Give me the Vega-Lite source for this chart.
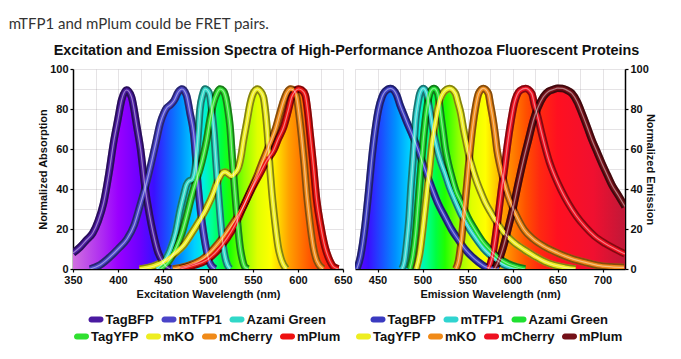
{
  "$schema": "https://vega.github.io/schema/vega-lite/v6.json",
  "background": "white",
  "padding": {"left": 8, "top": 16, "right": 0, "bottom": 0},
  "title": {"text": "mTFP1 and mPlum could be FRET pairs.", "anchor": "start", "font": "Lato", "fontSize": 15, "fontWeight": "normal", "color": "#333333", "offset": 11, "dx": -29},
  "datasets": {
    "exc": [
      {"s":"TagBFP","nm":350,"v":8},{"s":"TagBFP","nm":358,"v":11},{"s":"TagBFP","nm":365,"v":14.5},{"s":"TagBFP","nm":372,"v":18},{"s":"TagBFP","nm":378,"v":24},{"s":"TagBFP","nm":384,"v":33},{"s":"TagBFP","nm":390,"v":48},{"s":"TagBFP","nm":395,"v":63},{"s":"TagBFP","nm":400,"v":75},{"s":"TagBFP","nm":404,"v":84.5},{"s":"TagBFP","nm":409.6,"v":89.5},{"s":"TagBFP","nm":415,"v":86},{"s":"TagBFP","nm":421,"v":71},{"s":"TagBFP","nm":425,"v":60},{"s":"TagBFP","nm":430,"v":41},{"s":"TagBFP","nm":435,"v":27},{"s":"TagBFP","nm":439,"v":18},{"s":"TagBFP","nm":444,"v":9},{"s":"TagBFP","nm":448.5,"v":4.5},{"s":"TagBFP","nm":453,"v":1.5},{"s":"TagBFP","nm":458,"v":0},{"s":"TagBFP","nm":650,"v":0},
      {"s":"mTFP1","nm":350,"v":0},{"s":"mTFP1","nm":369,"v":0},{"s":"mTFP1","nm":380,"v":2},{"s":"mTFP1","nm":391,"v":6},{"s":"mTFP1","nm":400,"v":10},{"s":"mTFP1","nm":410,"v":15},{"s":"mTFP1","nm":418,"v":22},{"s":"mTFP1","nm":424,"v":31},{"s":"mTFP1","nm":431,"v":42},{"s":"mTFP1","nm":437,"v":53},{"s":"mTFP1","nm":442,"v":63},{"s":"mTFP1","nm":447,"v":73},{"s":"mTFP1","nm":451,"v":78},{"s":"mTFP1","nm":454,"v":80.5},{"s":"mTFP1","nm":458,"v":82},{"s":"mTFP1","nm":462,"v":84},{"s":"mTFP1","nm":467,"v":88.5},{"s":"mTFP1","nm":471,"v":90},{"s":"mTFP1","nm":476,"v":87},{"s":"mTFP1","nm":480,"v":78},{"s":"mTFP1","nm":484,"v":68},{"s":"mTFP1","nm":489,"v":41},{"s":"mTFP1","nm":492,"v":28},{"s":"mTFP1","nm":495,"v":18},{"s":"mTFP1","nm":499,"v":8},{"s":"mTFP1","nm":502,"v":3},{"s":"mTFP1","nm":508,"v":0},{"s":"mTFP1","nm":650,"v":0},
      {"s":"Azami Green","nm":350,"v":0},{"s":"Azami Green","nm":443,"v":0},{"s":"Azami Green","nm":450,"v":3},{"s":"Azami Green","nm":458,"v":9.5},{"s":"Azami Green","nm":464,"v":18},{"s":"Azami Green","nm":469,"v":29.5},{"s":"Azami Green","nm":473,"v":37},{"s":"Azami Green","nm":476,"v":42},{"s":"Azami Green","nm":479,"v":44},{"s":"Azami Green","nm":482,"v":44.5},{"s":"Azami Green","nm":485,"v":48},{"s":"Azami Green","nm":487.5,"v":58},{"s":"Azami Green","nm":489.5,"v":70},{"s":"Azami Green","nm":491,"v":79.5},{"s":"Azami Green","nm":494,"v":87},{"s":"Azami Green","nm":496.7,"v":90},{"s":"Azami Green","nm":500,"v":89},{"s":"Azami Green","nm":502,"v":87},{"s":"Azami Green","nm":504.5,"v":78},{"s":"Azami Green","nm":506.7,"v":68},{"s":"Azami Green","nm":509,"v":53},{"s":"Azami Green","nm":511.5,"v":38},{"s":"Azami Green","nm":514,"v":24},{"s":"Azami Green","nm":517,"v":11},{"s":"Azami Green","nm":520,"v":4},{"s":"Azami Green","nm":524.5,"v":0},{"s":"Azami Green","nm":650,"v":0},
      {"s":"TagYFP","nm":350,"v":0},{"s":"TagYFP","nm":447,"v":0},{"s":"TagYFP","nm":455,"v":3},{"s":"TagYFP","nm":465,"v":11},{"s":"TagYFP","nm":471,"v":18},{"s":"TagYFP","nm":476,"v":26},{"s":"TagYFP","nm":481,"v":35},{"s":"TagYFP","nm":486,"v":43},{"s":"TagYFP","nm":491,"v":50},{"s":"TagYFP","nm":495,"v":57},{"s":"TagYFP","nm":498.5,"v":64.5},{"s":"TagYFP","nm":502,"v":74},{"s":"TagYFP","nm":506,"v":83},{"s":"TagYFP","nm":510,"v":88},{"s":"TagYFP","nm":513.3,"v":90},{"s":"TagYFP","nm":517,"v":89},{"s":"TagYFP","nm":519,"v":87},{"s":"TagYFP","nm":522,"v":80},{"s":"TagYFP","nm":524.5,"v":71},{"s":"TagYFP","nm":527,"v":55},{"s":"TagYFP","nm":530,"v":38},{"s":"TagYFP","nm":533,"v":22},{"s":"TagYFP","nm":535.6,"v":11},{"s":"TagYFP","nm":538,"v":5},{"s":"TagYFP","nm":541,"v":1},{"s":"TagYFP","nm":545,"v":0},{"s":"TagYFP","nm":650,"v":0},
      {"s":"mKO","nm":350,"v":0},{"s":"mKO","nm":424,"v":0},{"s":"mKO","nm":440,"v":1.5},{"s":"mKO","nm":454,"v":4.5},{"s":"mKO","nm":465,"v":8.5},{"s":"mKO","nm":473,"v":12},{"s":"mKO","nm":482,"v":18},{"s":"mKO","nm":491,"v":24.5},{"s":"mKO","nm":499,"v":31},{"s":"mKO","nm":506,"v":38},{"s":"mKO","nm":510,"v":43},{"s":"mKO","nm":513,"v":46},{"s":"mKO","nm":516,"v":48},{"s":"mKO","nm":519,"v":48.5},{"s":"mKO","nm":523,"v":47.5},{"s":"mKO","nm":526,"v":46.5},{"s":"mKO","nm":530,"v":48},{"s":"mKO","nm":534,"v":51},{"s":"mKO","nm":537,"v":57},{"s":"mKO","nm":539,"v":63},{"s":"mKO","nm":543,"v":73},{"s":"mKO","nm":547,"v":83},{"s":"mKO","nm":551,"v":88.5},{"s":"mKO","nm":555,"v":90},{"s":"mKO","nm":558,"v":89},{"s":"mKO","nm":561.5,"v":86},{"s":"mKO","nm":564,"v":78},{"s":"mKO","nm":566,"v":68},{"s":"mKO","nm":568.5,"v":52},{"s":"mKO","nm":571,"v":38},{"s":"mKO","nm":574.5,"v":23},{"s":"mKO","nm":578,"v":11},{"s":"mKO","nm":582,"v":4},{"s":"mKO","nm":587,"v":0},{"s":"mKO","nm":650,"v":0},
      {"s":"mCherry","nm":350,"v":0},{"s":"mCherry","nm":461,"v":0},{"s":"mCherry","nm":480,"v":2},{"s":"mCherry","nm":495,"v":5.3},{"s":"mCherry","nm":506,"v":10},{"s":"mCherry","nm":517,"v":16},{"s":"mCherry","nm":528,"v":23},{"s":"mCherry","nm":539,"v":31},{"s":"mCherry","nm":547,"v":39},{"s":"mCherry","nm":554,"v":46},{"s":"mCherry","nm":561,"v":54},{"s":"mCherry","nm":569,"v":63},{"s":"mCherry","nm":575,"v":70},{"s":"mCherry","nm":580,"v":78},{"s":"mCherry","nm":584,"v":84},{"s":"mCherry","nm":587.5,"v":88},{"s":"mCherry","nm":592,"v":90},{"s":"mCherry","nm":596,"v":89},{"s":"mCherry","nm":598.5,"v":86},{"s":"mCherry","nm":601,"v":78},{"s":"mCherry","nm":604,"v":66},{"s":"mCherry","nm":607,"v":52},{"s":"mCherry","nm":609.6,"v":38},{"s":"mCherry","nm":613,"v":24},{"s":"mCherry","nm":617,"v":11},{"s":"mCherry","nm":621,"v":4},{"s":"mCherry","nm":628,"v":0},{"s":"mCherry","nm":650,"v":0},
      {"s":"mPlum","nm":350,"v":0},{"s":"mPlum","nm":469,"v":0},{"s":"mPlum","nm":485,"v":2},{"s":"mPlum","nm":498.5,"v":4.5},{"s":"mPlum","nm":510,"v":9},{"s":"mPlum","nm":521,"v":15.3},{"s":"mPlum","nm":530,"v":22},{"s":"mPlum","nm":539,"v":31},{"s":"mPlum","nm":548,"v":39.5},{"s":"mPlum","nm":558,"v":48},{"s":"mPlum","nm":565,"v":54},{"s":"mPlum","nm":573,"v":59.5},{"s":"mPlum","nm":578,"v":65},{"s":"mPlum","nm":584,"v":71},{"s":"mPlum","nm":589,"v":79},{"s":"mPlum","nm":593,"v":86},{"s":"mPlum","nm":597,"v":89},{"s":"mPlum","nm":600.4,"v":90},{"s":"mPlum","nm":604,"v":89.5},{"s":"mPlum","nm":608,"v":87},{"s":"mPlum","nm":611,"v":78},{"s":"mPlum","nm":613.3,"v":68},{"s":"mPlum","nm":617,"v":52},{"s":"mPlum","nm":620.7,"v":34.5},{"s":"mPlum","nm":625,"v":22},{"s":"mPlum","nm":630,"v":11},{"s":"mPlum","nm":635,"v":4.5},{"s":"mPlum","nm":639.3,"v":1.2},{"s":"mPlum","nm":645,"v":0},{"s":"mPlum","nm":650,"v":0}
    ],
    "emi": [
      {"s":"TagBFP","nm":425,"v":0},{"s":"TagBFP","nm":427,"v":0},{"s":"TagBFP","nm":431,"v":6},{"s":"TagBFP","nm":436,"v":21},{"s":"TagBFP","nm":440,"v":38},{"s":"TagBFP","nm":443.5,"v":54.5},{"s":"TagBFP","nm":447,"v":68},{"s":"TagBFP","nm":451,"v":79.5},{"s":"TagBFP","nm":455,"v":86},{"s":"TagBFP","nm":458.3,"v":88.7},{"s":"TagBFP","nm":464.6,"v":90.3},{"s":"TagBFP","nm":471.3,"v":87},{"s":"TagBFP","nm":475,"v":82},{"s":"TagBFP","nm":478.7,"v":77.8},{"s":"TagBFP","nm":483,"v":73},{"s":"TagBFP","nm":488,"v":67.8},{"s":"TagBFP","nm":494,"v":61},{"s":"TagBFP","nm":499,"v":54.5},{"s":"TagBFP","nm":505,"v":47},{"s":"TagBFP","nm":510,"v":41},{"s":"TagBFP","nm":517,"v":33},{"s":"TagBFP","nm":525,"v":26},{"s":"TagBFP","nm":532,"v":20},{"s":"TagBFP","nm":540,"v":14.5},{"s":"TagBFP","nm":547,"v":10},{"s":"TagBFP","nm":555,"v":6.2},{"s":"TagBFP","nm":562,"v":3.5},{"s":"TagBFP","nm":569.4,"v":1.2},{"s":"TagBFP","nm":577,"v":0.3},{"s":"TagBFP","nm":585,"v":0},{"s":"TagBFP","nm":725,"v":0},
      {"s":"mTFP1","nm":425,"v":0},{"s":"mTFP1","nm":477,"v":0},{"s":"mTFP1","nm":480,"v":4},{"s":"mTFP1","nm":482.4,"v":12.8},{"s":"mTFP1","nm":485,"v":25},{"s":"mTFP1","nm":487.2,"v":41},{"s":"mTFP1","nm":490,"v":58},{"s":"mTFP1","nm":492.4,"v":74.5},{"s":"mTFP1","nm":495,"v":83},{"s":"mTFP1","nm":497.2,"v":87.8},{"s":"mTFP1","nm":500.9,"v":90.3},{"s":"mTFP1","nm":504.6,"v":87.8},{"s":"mTFP1","nm":507,"v":82},{"s":"mTFP1","nm":509.4,"v":76},{"s":"mTFP1","nm":512,"v":69},{"s":"mTFP1","nm":515.7,"v":61},{"s":"mTFP1","nm":520,"v":54},{"s":"mTFP1","nm":525,"v":47.8},{"s":"mTFP1","nm":530,"v":41},{"s":"mTFP1","nm":536,"v":34.5},{"s":"mTFP1","nm":543,"v":27.5},{"s":"mTFP1","nm":551,"v":21},{"s":"mTFP1","nm":560,"v":15},{"s":"mTFP1","nm":569.4,"v":9.5},{"s":"mTFP1","nm":578,"v":6},{"s":"mTFP1","nm":588,"v":2.8},{"s":"mTFP1","nm":597,"v":1},{"s":"mTFP1","nm":606.5,"v":0},{"s":"mTFP1","nm":725,"v":0},
      {"s":"Azami Green","nm":425,"v":0},{"s":"Azami Green","nm":486,"v":0},{"s":"Azami Green","nm":489,"v":6},{"s":"Azami Green","nm":492.4,"v":17.8},{"s":"Azami Green","nm":495,"v":32},{"s":"Azami Green","nm":498.3,"v":51},{"s":"Azami Green","nm":501,"v":65},{"s":"Azami Green","nm":504.6,"v":79.5},{"s":"Azami Green","nm":507,"v":86},{"s":"Azami Green","nm":509.4,"v":89.2},{"s":"Azami Green","nm":512.8,"v":90.3},{"s":"Azami Green","nm":516.9,"v":87.8},{"s":"Azami Green","nm":519,"v":82},{"s":"Azami Green","nm":520.6,"v":76},{"s":"Azami Green","nm":523,"v":68},{"s":"Azami Green","nm":525,"v":61},{"s":"Azami Green","nm":528,"v":54},{"s":"Azami Green","nm":532.4,"v":46},{"s":"Azami Green","nm":537,"v":39},{"s":"Azami Green","nm":543.5,"v":32.8},{"s":"Azami Green","nm":550,"v":26},{"s":"Azami Green","nm":558.3,"v":19.5},{"s":"Azami Green","nm":567,"v":13.5},{"s":"Azami Green","nm":577,"v":8.7},{"s":"Azami Green","nm":586,"v":5},{"s":"Azami Green","nm":595.4,"v":2.5},{"s":"Azami Green","nm":605,"v":1},{"s":"Azami Green","nm":614,"v":0},{"s":"Azami Green","nm":725,"v":0},
      {"s":"TagYFP","nm":425,"v":0},{"s":"TagYFP","nm":493,"v":0},{"s":"TagYFP","nm":497,"v":8},{"s":"TagYFP","nm":500.6,"v":21},{"s":"TagYFP","nm":504,"v":35},{"s":"TagYFP","nm":508,"v":51},{"s":"TagYFP","nm":511,"v":64},{"s":"TagYFP","nm":515.4,"v":76},{"s":"TagYFP","nm":519,"v":84},{"s":"TagYFP","nm":522.8,"v":88},{"s":"TagYFP","nm":530.2,"v":90.3},{"s":"TagYFP","nm":536.5,"v":87.8},{"s":"TagYFP","nm":539.5,"v":83},{"s":"TagYFP","nm":542.4,"v":78},{"s":"TagYFP","nm":545.5,"v":70},{"s":"TagYFP","nm":548.7,"v":63},{"s":"TagYFP","nm":552,"v":56},{"s":"TagYFP","nm":556,"v":49.5},{"s":"TagYFP","nm":560,"v":44},{"s":"TagYFP","nm":565.4,"v":37.8},{"s":"TagYFP","nm":570,"v":33},{"s":"TagYFP","nm":576.5,"v":27.8},{"s":"TagYFP","nm":583,"v":23},{"s":"TagYFP","nm":591.3,"v":17.8},{"s":"TagYFP","nm":601,"v":13.5},{"s":"TagYFP","nm":613.5,"v":9.5},{"s":"TagYFP","nm":625,"v":6.3},{"s":"TagYFP","nm":635.7,"v":3.7},{"s":"TagYFP","nm":646,"v":2},{"s":"TagYFP","nm":658,"v":0.8},{"s":"TagYFP","nm":670,"v":0},{"s":"TagYFP","nm":725,"v":0},
      {"s":"mKO","nm":425,"v":0},{"s":"mKO","nm":537,"v":0},{"s":"mKO","nm":540,"v":4},{"s":"mKO","nm":542.8,"v":12.8},{"s":"mKO","nm":546,"v":27},{"s":"mKO","nm":549.4,"v":42.8},{"s":"mKO","nm":552.5,"v":58},{"s":"mKO","nm":555.7,"v":71},{"s":"mKO","nm":559,"v":81},{"s":"mKO","nm":562.4,"v":87.8},{"s":"mKO","nm":567.6,"v":90.3},{"s":"mKO","nm":573.1,"v":87.8},{"s":"mKO","nm":575.5,"v":82},{"s":"mKO","nm":577.9,"v":76},{"s":"mKO","nm":580.5,"v":68},{"s":"mKO","nm":582.8,"v":59.5},{"s":"mKO","nm":586,"v":52},{"s":"mKO","nm":589.1,"v":46},{"s":"mKO","nm":593,"v":39.5},{"s":"mKO","nm":598.3,"v":32.8},{"s":"mKO","nm":605,"v":26},{"s":"mKO","nm":613.1,"v":19.5},{"s":"mKO","nm":623,"v":15},{"s":"mKO","nm":635.4,"v":11.2},{"s":"mKO","nm":650,"v":8},{"s":"mKO","nm":665,"v":5.3},{"s":"mKO","nm":680,"v":3.4},{"s":"mKO","nm":694.6,"v":1.8},{"s":"mKO","nm":710,"v":1.1},{"s":"mKO","nm":724,"v":0.8},{"s":"mKO","nm":725,"v":0},
      {"s":"mCherry","nm":425,"v":0},{"s":"mCherry","nm":573,"v":0},{"s":"mCherry","nm":577,"v":5},{"s":"mCherry","nm":580.6,"v":14.5},{"s":"mCherry","nm":584,"v":26},{"s":"mCherry","nm":587.2,"v":37.8},{"s":"mCherry","nm":591,"v":50},{"s":"mCherry","nm":594.6,"v":62.8},{"s":"mCherry","nm":598,"v":73},{"s":"mCherry","nm":602,"v":82.8},{"s":"mCherry","nm":605,"v":87},{"s":"mCherry","nm":608.3,"v":89.2},{"s":"mCherry","nm":614.6,"v":90.3},{"s":"mCherry","nm":621.3,"v":87.8},{"s":"mCherry","nm":624.5,"v":82},{"s":"mCherry","nm":628,"v":76.2},{"s":"mCherry","nm":632,"v":68.5},{"s":"mCherry","nm":636.1,"v":61.2},{"s":"mCherry","nm":641,"v":53.5},{"s":"mCherry","nm":647.2,"v":46.2},{"s":"mCherry","nm":654,"v":39.5},{"s":"mCherry","nm":662,"v":32.8},{"s":"mCherry","nm":671,"v":26.5},{"s":"mCherry","nm":680.6,"v":21.2},{"s":"mCherry","nm":691,"v":16.5},{"s":"mCherry","nm":702.8,"v":12.8},{"s":"mCherry","nm":714,"v":10},{"s":"mCherry","nm":725,"v":7.5},
      {"s":"mPlum","nm":425,"v":0},{"s":"mPlum","nm":580,"v":0},{"s":"mPlum","nm":585,"v":4.5},{"s":"mPlum","nm":589.9,"v":11.2},{"s":"mPlum","nm":595,"v":20},{"s":"mPlum","nm":601,"v":31.2},{"s":"mPlum","nm":606,"v":42},{"s":"mPlum","nm":612.2,"v":54.5},{"s":"mPlum","nm":618,"v":65},{"s":"mPlum","nm":623.3,"v":74.5},{"s":"mPlum","nm":628,"v":80.5},{"s":"mPlum","nm":634.4,"v":86.2},{"s":"mPlum","nm":640,"v":88.8},{"s":"mPlum","nm":645.6,"v":89.8},{"s":"mPlum","nm":650,"v":90.4},{"s":"mPlum","nm":655.6,"v":90.3},{"s":"mPlum","nm":661,"v":89.3},{"s":"mPlum","nm":666,"v":87.8},{"s":"mPlum","nm":672,"v":83.5},{"s":"mPlum","nm":677.2,"v":77.8},{"s":"mPlum","nm":683,"v":71},{"s":"mPlum","nm":688.3,"v":64.5},{"s":"mPlum","nm":694,"v":58.5},{"s":"mPlum","nm":699.4,"v":52.8},{"s":"mPlum","nm":705,"v":47.3},{"s":"mPlum","nm":710.5,"v":42},{"s":"mPlum","nm":718,"v":36.5},{"s":"mPlum","nm":725,"v":31.2}
    ]
  },
  "vconcat": [
    {
      "title": {"text": "Excitation and Emission Spectra of High-Performance Anthozoa Fluorescent Proteins", "anchor": "middle", "font": "Liberation Sans", "fontSize": 14.4, "fontWeight": "bold", "color": "#111111", "offset": 5},
      "bounds": "flush",
      "spacing": 12,
      "resolve": {"scale": {"x": "independent", "y": "independent", "color": "independent", "stroke": "independent"}, "legend": {"color": "independent", "stroke": "independent"}},
      "hconcat": [
        {
          "width": 270, "height": 200,
          "data": {"name": "exc"},
          "encoding": {
            "x": {"field": "nm", "type": "quantitative", "title": "Excitation Wavelength (nm)",
              "scale": {"domain": [350, 650], "nice": false, "zero": false},
              "axis": {"values": [350,375,400,425,450,475,500,525,550,575,600,625,650], "labelExpr": "datum.value % 50 === 0 ? datum.label : ''", "tickOpacity": {"condition": {"test": "datum.value % 50 === 0", "value": 1}, "value": 0}}},
            "y": {"field": "v", "type": "quantitative", "title": "Normalized Absorption", "stack": null,
              "scale": {"domain": [0, 100], "nice": false},
              "axis": {"values": [0,10,20,30,40,50,60,70,80,90,100], "labelExpr": "datum.value % 20 === 0 ? datum.label : ''", "tickOpacity": {"condition": {"test": "datum.value % 20 === 0", "value": 1}, "value": 0}}}
          },
          "layer": [
            {"data": {"values": [{}]},
             "mark": {"type": "rect", "fillOpacity": 0.36, "fill": {"gradient": "linear", "x1": 0, "y1": 0, "x2": 1, "y2": 0, "stops": [
               {"offset": 0, "color": "#d070e0"},{"offset": 0.1, "color": "#b030f0"},{"offset": 0.1667, "color": "#9a00ff"},{"offset": 0.25, "color": "#6a00ff"},{"offset": 0.3, "color": "#3a10ff"},{"offset": 0.35, "color": "#1a50ff"},{"offset": 0.4, "color": "#0090ff"},{"offset": 0.45, "color": "#00d0ff"},{"offset": 0.4833, "color": "#00f0e0"},{"offset": 0.5167, "color": "#00ff90"},{"offset": 0.55, "color": "#00ff40"},{"offset": 0.5833, "color": "#20ff00"},{"offset": 0.6333, "color": "#90ff00"},{"offset": 0.6833, "color": "#e0ff00"},{"offset": 0.7333, "color": "#ffff00"},{"offset": 0.7667, "color": "#ffd000"},{"offset": 0.8, "color": "#ffa000"},{"offset": 0.8333, "color": "#ff8000"},{"offset": 0.8833, "color": "#ff5000"},{"offset": 0.9333, "color": "#ff2a10"},{"offset": 1, "color": "#ff1020"}]}},
             "encoding": {"x": {"datum": 350, "type": "quantitative"}, "x2": {"datum": 650}, "y": {"datum": 0, "type": "quantitative"}, "y2": {"datum": 100}}},
            {"mark": {"type": "area", "interpolate": "monotone", "clip": true, "fill": {"gradient": "linear", "x1": 0, "y1": 0, "x2": 1, "y2": 0, "stops": [
               {"offset": 0, "color": "#d070e0"},{"offset": 0.1, "color": "#b030f0"},{"offset": 0.1667, "color": "#9a00ff"},{"offset": 0.25, "color": "#6a00ff"},{"offset": 0.3, "color": "#3a10ff"},{"offset": 0.35, "color": "#1a50ff"},{"offset": 0.4, "color": "#0090ff"},{"offset": 0.45, "color": "#00d0ff"},{"offset": 0.4833, "color": "#00f0e0"},{"offset": 0.5167, "color": "#00ff90"},{"offset": 0.55, "color": "#00ff40"},{"offset": 0.5833, "color": "#20ff00"},{"offset": 0.6333, "color": "#90ff00"},{"offset": 0.6833, "color": "#e0ff00"},{"offset": 0.7333, "color": "#ffff00"},{"offset": 0.7667, "color": "#ffd000"},{"offset": 0.8, "color": "#ffa000"},{"offset": 0.8333, "color": "#ff8000"},{"offset": 0.8833, "color": "#ff5000"},{"offset": 0.9333, "color": "#ff2a10"},{"offset": 1, "color": "#ff1020"}]}},
             "encoding": {"detail": {"field": "s", "type": "nominal"}}},
            {"transform": [{"filter": "!((datum.nm <= 350 || datum.nm >= 650) && datum.v == 0)"}, {"filter": "indexof(['TagBFP','mTFP1','Azami Green'], datum.s) >= 0"}],
             "mark": {"type": "line", "interpolate": "monotone", "clip": true, "strokeWidth": 7.5},
             "encoding": {"color": {"field": "s", "type": "nominal", "scale": {"domain": ["TagBFP","mTFP1","Azami Green"], "range": ["#4a1aa0","#4a44c8","#30d8c8"]}}}},
            {"transform": [{"filter": "!((datum.nm <= 350 || datum.nm >= 650) && datum.v == 0)"}, {"filter": "indexof(['TagBFP','mTFP1','Azami Green'], datum.s) < 0"}],
             "mark": {"type": "line", "interpolate": "monotone", "clip": true, "strokeWidth": 7.5},
             "encoding": {"stroke": {"field": "s", "type": "nominal", "scale": {"domain": ["TagYFP","mKO","mCherry","mPlum"], "range": ["#30e030","#eeee20","#f08a18","#ee1010"]}}}},
            {"transform": [{"filter": "!((datum.nm <= 350 || datum.nm >= 650) && datum.v == 0)"}],
             "mark": {"type": "line", "interpolate": "monotone", "clip": true, "strokeWidth": 7.5, "color": "#000000", "opacity": 0.45},
             "encoding": {"detail": {"field": "s", "type": "nominal"}}},
            {"transform": [{"filter": "!((datum.nm <= 350 || datum.nm >= 650) && datum.v == 0)"}, {"filter": "indexof(['TagBFP','mTFP1','Azami Green'], datum.s) >= 0"}],
             "mark": {"type": "line", "interpolate": "monotone", "clip": true, "strokeWidth": 4},
             "encoding": {"color": {"field": "s", "type": "nominal", "scale": {"domain": ["TagBFP","mTFP1","Azami Green"], "range": ["#4a1aa0","#4a44c8","#30d8c8"]},
               "legend": {"orient": "bottom", "direction": "horizontal", "title": null}}}},
            {"transform": [{"filter": "!((datum.nm <= 350 || datum.nm >= 650) && datum.v == 0)"}, {"filter": "indexof(['TagBFP','mTFP1','Azami Green'], datum.s) < 0"}],
             "mark": {"type": "line", "interpolate": "monotone", "clip": true, "strokeWidth": 4},
             "encoding": {"stroke": {"field": "s", "type": "nominal", "scale": {"domain": ["TagYFP","mKO","mCherry","mPlum"], "range": ["#30e030","#eeee20","#f08a18","#ee1010"]},
               "legend": {"orient": "bottom", "direction": "horizontal", "title": null}}}},
            {"transform": [{"filter": "!((datum.nm <= 350 || datum.nm >= 650) && datum.v == 0)"}],
             "mark": {"type": "line", "interpolate": "monotone", "clip": true, "strokeWidth": 1.2, "color": "#ffffff", "opacity": 0.45},
             "encoding": {"detail": {"field": "s", "type": "nominal"}}},
            {"data": {"values": [{}]},
             "mark": {"type": "text", "text": "(a)", "fontWeight": "bold", "fontSize": 10, "font": "Liberation Sans", "color": "#111111"},
             "encoding": {"x": {"datum": 633, "type": "quantitative"}, "y": {"datum": 94, "type": "quantitative"}}},
            {"data": {"values": [{}]},
             "mark": {"type": "rect", "fill": "transparent", "stroke": "#000000", "strokeWidth": 1.5},
             "encoding": {"x": {"datum": 350, "type": "quantitative"}, "x2": {"datum": 650}, "y": {"datum": 0, "type": "quantitative"}, "y2": {"datum": 100}}}
          ]
        },
        {
          "width": 270, "height": 200,
          "data": {"name": "emi"},
          "encoding": {
            "x": {"field": "nm", "type": "quantitative", "title": "Emission Wavelength (nm)",
              "scale": {"domain": [425, 725], "nice": false, "zero": false},
              "axis": {"values": [425,450,475,500,525,550,575,600,625,650,675,700,725], "labelExpr": "datum.value % 50 === 0 ? datum.label : ''", "tickOpacity": {"condition": {"test": "datum.value % 50 === 0", "value": 1}, "value": 0}}},
            "y": {"field": "v", "type": "quantitative", "title": "Normalized Emission", "stack": null,
              "scale": {"domain": [0, 100], "nice": false},
              "axis": {"orient": "right", "titlePadding": -4, "values": [0,10,20,30,40,50,60,70,80,90,100], "labelExpr": "datum.value % 20 === 0 ? datum.label : ''", "tickOpacity": {"condition": {"test": "datum.value % 20 === 0", "value": 1}, "value": 0}}}
          },
          "layer": [
            {"data": {"values": [{}]},
             "mark": {"type": "rect", "fillOpacity": 0.36, "fill": {"gradient": "linear", "x1": 0, "y1": 0, "x2": 1, "y2": 0, "stops": [
               {"offset": 0, "color": "#6a00ff"},{"offset": 0.05, "color": "#3a10ff"},{"offset": 0.1, "color": "#1a50ff"},{"offset": 0.15, "color": "#0090ff"},{"offset": 0.2, "color": "#00d0ff"},{"offset": 0.2333, "color": "#00f0e0"},{"offset": 0.2667, "color": "#00ff90"},{"offset": 0.3, "color": "#00ff40"},{"offset": 0.3333, "color": "#20ff00"},{"offset": 0.3833, "color": "#90ff00"},{"offset": 0.4333, "color": "#e0ff00"},{"offset": 0.4833, "color": "#ffff00"},{"offset": 0.5167, "color": "#ffd000"},{"offset": 0.55, "color": "#ffa000"},{"offset": 0.5833, "color": "#ff8000"},{"offset": 0.6333, "color": "#ff5000"},{"offset": 0.6833, "color": "#ff2a10"},{"offset": 0.75, "color": "#ff1020"},{"offset": 0.8833, "color": "#f01030"},{"offset": 1, "color": "#c01838"}]}},
             "encoding": {"x": {"datum": 425, "type": "quantitative"}, "x2": {"datum": 725}, "y": {"datum": 0, "type": "quantitative"}, "y2": {"datum": 100}}},
            {"mark": {"type": "area", "interpolate": "monotone", "clip": true, "fill": {"gradient": "linear", "x1": 0, "y1": 0, "x2": 1, "y2": 0, "stops": [
               {"offset": 0, "color": "#6a00ff"},{"offset": 0.05, "color": "#3a10ff"},{"offset": 0.1, "color": "#1a50ff"},{"offset": 0.15, "color": "#0090ff"},{"offset": 0.2, "color": "#00d0ff"},{"offset": 0.2333, "color": "#00f0e0"},{"offset": 0.2667, "color": "#00ff90"},{"offset": 0.3, "color": "#00ff40"},{"offset": 0.3333, "color": "#20ff00"},{"offset": 0.3833, "color": "#90ff00"},{"offset": 0.4333, "color": "#e0ff00"},{"offset": 0.4833, "color": "#ffff00"},{"offset": 0.5167, "color": "#ffd000"},{"offset": 0.55, "color": "#ffa000"},{"offset": 0.5833, "color": "#ff8000"},{"offset": 0.6333, "color": "#ff5000"},{"offset": 0.6833, "color": "#ff2a10"},{"offset": 0.75, "color": "#ff1020"},{"offset": 0.8833, "color": "#f01030"},{"offset": 1, "color": "#c01838"}]}},
             "encoding": {"detail": {"field": "s", "type": "nominal"}}},
            {"transform": [{"filter": "!((datum.nm <= 425 || datum.nm >= 725) && datum.v == 0)"}, {"filter": "indexof(['TagBFP','mTFP1','Azami Green'], datum.s) >= 0"}],
             "mark": {"type": "line", "interpolate": "monotone", "clip": true, "strokeWidth": 7.5},
             "encoding": {"color": {"field": "s", "type": "nominal", "scale": {"domain": ["TagBFP","mTFP1","Azami Green"], "range": ["#3a3ac0","#30d4d0","#20e030"]}}}},
            {"transform": [{"filter": "!((datum.nm <= 425 || datum.nm >= 725) && datum.v == 0)"}, {"filter": "indexof(['TagBFP','mTFP1','Azami Green'], datum.s) < 0"}],
             "mark": {"type": "line", "interpolate": "monotone", "clip": true, "strokeWidth": 7.5},
             "encoding": {"stroke": {"field": "s", "type": "nominal", "scale": {"domain": ["TagYFP","mKO","mCherry","mPlum"], "range": ["#eeee20","#f08a18","#ee1020","#741018"]}}}},
            {"transform": [{"filter": "!((datum.nm <= 425 || datum.nm >= 725) && datum.v == 0)"}],
             "mark": {"type": "line", "interpolate": "monotone", "clip": true, "strokeWidth": 7.5, "color": "#000000", "opacity": 0.45},
             "encoding": {"detail": {"field": "s", "type": "nominal"}}},
            {"transform": [{"filter": "!((datum.nm <= 425 || datum.nm >= 725) && datum.v == 0)"}, {"filter": "indexof(['TagBFP','mTFP1','Azami Green'], datum.s) >= 0"}],
             "mark": {"type": "line", "interpolate": "monotone", "clip": true, "strokeWidth": 4},
             "encoding": {"color": {"field": "s", "type": "nominal", "scale": {"domain": ["TagBFP","mTFP1","Azami Green"], "range": ["#3a3ac0","#30d4d0","#20e030"]},
               "legend": {"orient": "bottom", "direction": "horizontal", "title": null}}}},
            {"transform": [{"filter": "!((datum.nm <= 425 || datum.nm >= 725) && datum.v == 0)"}, {"filter": "indexof(['TagBFP','mTFP1','Azami Green'], datum.s) < 0"}],
             "mark": {"type": "line", "interpolate": "monotone", "clip": true, "strokeWidth": 4},
             "encoding": {"stroke": {"field": "s", "type": "nominal", "scale": {"domain": ["TagYFP","mKO","mCherry","mPlum"], "range": ["#eeee20","#f08a18","#ee1020","#741018"]},
               "legend": {"orient": "bottom", "direction": "horizontal", "title": null}}}},
            {"transform": [{"filter": "!((datum.nm <= 425 || datum.nm >= 725) && datum.v == 0)"}],
             "mark": {"type": "line", "interpolate": "monotone", "clip": true, "strokeWidth": 1.2, "color": "#ffffff", "opacity": 0.45},
             "encoding": {"detail": {"field": "s", "type": "nominal"}}},
            {"data": {"values": [{}]},
             "mark": {"type": "text", "text": "(b)", "fontWeight": "bold", "fontSize": 10, "font": "Liberation Sans", "color": "#111111"},
             "encoding": {"x": {"datum": 710, "type": "quantitative"}, "y": {"datum": 94, "type": "quantitative"}}},
            {"data": {"values": [{}]},
             "mark": {"type": "rect", "fill": "transparent", "stroke": "#000000", "strokeWidth": 1.5},
             "encoding": {"x": {"datum": 425, "type": "quantitative"}, "x2": {"datum": 725}, "y": {"datum": 0, "type": "quantitative"}, "y2": {"datum": 100}}}
          ]
        }
      ]
    }
  ],
  "config": {
    "font": "Liberation Sans",
    "view": {"stroke": null},
    "axis": {"labelFont": "Liberation Sans", "labelFontWeight": "bold", "labelFontSize": 11, "labelColor": "#111111", "labelPadding": 2, "labelFlush": false, "labelOverlap": false,
      "titleFont": "Liberation Sans", "titleFontWeight": "bold", "titleFontSize": 11, "titleColor": "#111111", "titlePadding": 3,
      "domainColor": "#000000", "domainWidth": 1.5, "tickColor": "#000000", "tickSize": 3, "tickWidth": 1.2,
      "grid": true, "gridColor": "#6a5a6a", "gridOpacity": 0.22, "gridWidth": 0.8, "zindex": 1},
    "axisLeft": {"titlePadding": 1},
    "legend": {"labelFont": "Liberation Sans", "labelFontWeight": "bold", "labelFontSize": 13, "labelColor": "#111111",
      "symbolType": "M-1.5,-0.5H1.5A0.5,0.5,0,0,1,1.5,0.5H-1.5A0.5,0.5,0,0,1,-1.5,-0.5Z", "symbolStrokeWidth": 3, "symbolSize": 36, "columnPadding": 2, "labelOffset": 3, "offset": 14, "padding": 0, "rowPadding": 4,
      "layout": {"bottom": {"anchor": "middle", "center": true, "direction": "vertical", "margin": 3}}}
  }
}
